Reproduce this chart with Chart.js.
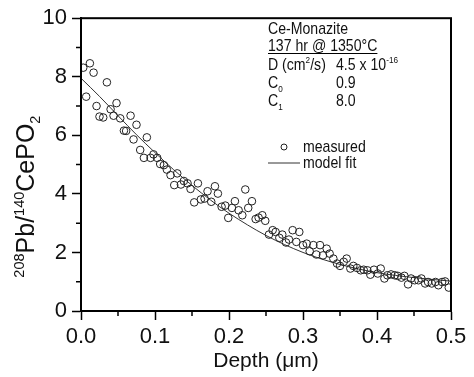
<!DOCTYPE html>
<html>
<head>
<meta charset="utf-8">
<title>Ce-Monazite Pb diffusion profile</title>
<script src="https://cdn.jsdelivr.net/npm/chart.js@4.4.1/dist/chart.umd.min.js"></script>
<style>
    html, body { margin: 0; padding: 0; background: #fff; }
    canvas { display: block; }
</style>
</head>
<body>
<canvas id="profile" width="474" height="377"></canvas>
<script>
// Measured 208Pb/140CePO2 ratio vs depth (um)
const depthMeasured = [
    0.003, 0.007, 0.012, 0.017, 0.021, 0.025, 0.030, 0.035, 0.040, 0.044,
    0.048, 0.053, 0.058, 0.061, 0.067, 0.071, 0.075, 0.080, 0.085, 0.089,
    0.094, 0.098, 0.103, 0.107, 0.112, 0.116, 0.121, 0.126, 0.130, 0.135,
    0.139, 0.144, 0.148, 0.153, 0.158, 0.162, 0.167, 0.171, 0.176, 0.181,
    0.185, 0.190, 0.195, 0.199, 0.204, 0.208, 0.213, 0.218, 0.222, 0.226,
    0.231, 0.236, 0.240, 0.245, 0.249, 0.254, 0.259, 0.263, 0.268, 0.272,
    0.277, 0.281, 0.286, 0.291, 0.295, 0.300, 0.305, 0.309, 0.314, 0.318,
    0.323, 0.327, 0.332, 0.336, 0.341, 0.346, 0.350, 0.355, 0.359, 0.364,
    0.368, 0.373, 0.378, 0.382, 0.387, 0.391, 0.396, 0.401, 0.405, 0.410,
    0.414, 0.419, 0.424, 0.428, 0.433, 0.437, 0.442, 0.446, 0.451, 0.456,
    0.460, 0.465, 0.469, 0.474, 0.479, 0.483, 0.488, 0.492, 0.497
];
const ratioMeasured = [
    8.31, 7.32, 8.46, 8.14, 7.00, 6.64, 6.61, 7.81, 6.89, 6.67,
    7.10, 6.58, 6.16, 6.15, 6.67, 5.86, 6.36, 5.50, 5.23, 5.93,
    5.23, 5.35, 5.23, 5.02, 4.98, 4.83, 4.64, 4.30, 4.70, 4.32,
    4.44, 4.36, 4.17, 3.71, 4.36, 3.81, 3.84, 4.09, 3.73, 4.26,
    4.01, 3.56, 3.60, 3.18, 3.52, 3.75, 3.44, 3.27, 4.15, 3.52,
    3.75, 3.14, 3.19, 3.27, 3.08, 2.61, 2.76, 2.70, 2.50, 2.61,
    2.34, 2.44, 2.76, 2.36, 2.70, 2.25, 2.30, 2.04, 2.25, 1.93,
    2.25, 1.90, 2.13, 1.96, 1.79, 1.62, 1.54, 1.68, 1.79, 1.45,
    1.54, 1.47, 1.39, 1.41, 1.39, 1.24, 1.41, 1.28, 1.45, 1.11,
    1.22, 1.25, 1.22, 1.20, 1.14, 1.20, 0.91, 1.11, 1.05, 1.05,
    1.11, 0.94, 0.99, 0.94, 0.99, 0.88, 0.99, 1.01, 0.80
];

// Model fit curve, sampled off the figure
const depthFit = [0.0, 0.025, 0.05, 0.075, 0.1, 0.125, 0.15, 0.175, 0.2, 0.25, 0.3, 0.35, 0.4, 0.45, 0.5];
const ratioFit = [7.95, 7.33, 6.67, 6.02, 5.41, 4.83, 4.29, 3.79, 3.34, 2.58, 2.00, 1.59, 1.31, 1.14, 1.02];

// Axis ticks
const depthTicks = [0.0, 0.1, 0.2, 0.3, 0.4, 0.5];
const ratioTicks = [0, 2, 4, 6, 8, 10];

const FONT = '"Liberation Sans", Arial, sans-serif';
const INK = '#111';

// Draw text runs (normal / sup / sub) along a baseline, returns end x
function drawRuns(ctx, runs, x, y, size) {
    runs.forEach(r => {
        let fs = size, dy = 0;
        if (r.sup) { fs = size * 0.58; dy = -size * 0.42; }
        if (r.sub) { fs = size * 0.58; dy = size * 0.22; }
        ctx.font = `${fs}px ${FONT}`;
        ctx.fillText(r.t, x, y + dy);
        x += ctx.measureText(r.t).width;
    });
    return x;
}

function runsWidth(ctx, runs, size) {
    let w = 0;
    runs.forEach(r => {
        const fs = (r.sup || r.sub) ? size * 0.58 : size;
        ctx.font = `${fs}px ${FONT}`;
        w += ctx.measureText(r.t).width;
    });
    return w;
}

// Frame, minor ticks, y title, annotation and legend
const extrasPlugin = {
    id: 'extras',
    afterDraw(chart) {
        const ctx = chart.ctx;
        const area = chart.chartArea;
        const xs = chart.scales.x;
        const ys = chart.scales.y;

        ctx.save();
        ctx.strokeStyle = '#000';

        // box frame
        ctx.lineWidth = 2;
        ctx.strokeRect(area.left, area.top, area.right - area.left, area.bottom - area.top);

        // minor ticks halfway between majors
        ctx.lineWidth = 1.5;
        ctx.beginPath();
        for (let i = 0; i < depthTicks.length - 1; i++) {
            const px = xs.getPixelForValue((depthTicks[i] + depthTicks[i + 1]) / 2);
            ctx.moveTo(px, area.bottom);
            ctx.lineTo(px, area.bottom + 5);
        }
        for (let i = 0; i < ratioTicks.length - 1; i++) {
            const py = ys.getPixelForValue((ratioTicks[i] + ratioTicks[i + 1]) / 2);
            ctx.moveTo(area.left, py);
            ctx.lineTo(area.left - 5, py);
        }
        ctx.stroke();

        ctx.fillStyle = INK;
        ctx.textBaseline = 'alphabetic';
        ctx.textAlign = 'left';

        // y axis title: 208Pb/140CePO2
        const yTitle = [
            { t: '208', sup: true }, { t: 'Pb/' },
            { t: '140', sup: true }, { t: 'CePO' },
            { t: '2', sub: true }
        ];
        const tSize = 25;
        const tw = runsWidth(ctx, yTitle, tSize);
        const midY = (area.top + area.bottom) / 2 + 32;
        ctx.save();
        ctx.translate(34, midY + tw / 2);
        ctx.rotate(-Math.PI / 2);
        drawRuns(ctx, yTitle, 0, 0, tSize);
        ctx.restore();

        // annotation block, narrow face
        const aSize = 17;
        const sx = 0.83;
        const col1 = 268, col2 = 336;
        ctx.save();
        ctx.scale(sx, 1);
        const X = v => v / sx;
        drawRuns(ctx, [{ t: 'Ce-Monazite' }], X(col1), 34, aSize);
        const endX = drawRuns(ctx, [{ t: '137 hr @ 1350°C' }], X(col1), 51, aSize);
        ctx.lineWidth = 1.2;
        ctx.beginPath();
        ctx.moveTo(X(col1), 53.5);
        ctx.lineTo(endX, 53.5);
        ctx.stroke();
        drawRuns(ctx, [{ t: 'D (cm' }, { t: '2', sup: true }, { t: '/s)' }], X(col1), 70, aSize);
        drawRuns(ctx, [{ t: '4.5 x 10' }, { t: '-16', sup: true }], X(col2), 70, aSize);
        drawRuns(ctx, [{ t: 'C' }, { t: '0', sub: true }], X(col1), 88, aSize);
        drawRuns(ctx, [{ t: '0.9' }], X(col2), 88, aSize);
        drawRuns(ctx, [{ t: 'C' }, { t: '1', sub: true }], X(col1), 106, aSize);
        drawRuns(ctx, [{ t: '8.0' }], X(col2), 106, aSize);

        // legend
        drawRuns(ctx, [{ t: 'measured' }], X(303), 152, aSize);
        drawRuns(ctx, [{ t: 'model fit' }], X(303), 168, aSize);
        ctx.restore();

        const ds = chart.data.datasets;
        ctx.strokeStyle = ds[0].borderColor;
        ctx.lineWidth = 1;
        ctx.beginPath();
        ctx.arc(284, 147, 3, 0, Math.PI * 2);
        ctx.stroke();
        ctx.strokeStyle = ds[1].borderColor;
        ctx.lineWidth = ds[1].borderWidth;
        ctx.beginPath();
        ctx.moveTo(268, 163);
        ctx.lineTo(300, 163);
        ctx.stroke();

        ctx.restore();
    }
};

const measuredPoints = depthMeasured.map((d, i) => ({ x: d, y: ratioMeasured[i] }));
const fitPoints = depthFit.map((d, i) => ({ x: d, y: ratioFit[i] }));

new Chart(document.getElementById('profile'), {
    type: 'scatter',
    data: {
        datasets: [{
            label: 'measured',
            data: measuredPoints,
            pointStyle: 'circle',
            pointRadius: 3.8,
            pointBorderWidth: 1,
            borderColor: '#222',
            backgroundColor: 'rgba(255, 255, 255, 0)',
            showLine: false,
            order: 1
        }, {
            label: 'model fit',
            data: fitPoints,
            showLine: true,
            pointRadius: 0,
            borderColor: '#333',
            borderWidth: 1,
            cubicInterpolationMode: 'monotone',
            fill: false,
            order: 2
        }]
    },
    options: {
        responsive: false,
        animation: false,
        layout: {
            padding: { left: 0, right: 23, top: 18, bottom: 0 }
        },
        plugins: {
            legend: { display: false },
            tooltip: { enabled: false }
        },
        scales: {
            x: {
                type: 'linear',
                min: 0,
                max: 0.5,
                afterFit: scale => { scale.height = 66; },
                afterBuildTicks: scale => {
                    scale.ticks = depthTicks.map(v => ({ value: v }));
                },
                ticks: {
                    color: INK,
                    padding: 4,
                    font: { family: FONT, size: 22 },
                    callback: v => Number(v).toFixed(1)
                },
                grid: {
                    display: true,
                    drawOnChartArea: false,
                    drawTicks: true,
                    tickLength: 9,
                    tickWidth: 1.5,
                    tickColor: '#000'
                },
                border: { display: true, color: '#000', width: 2 },
                title: {
                    display: true,
                    text: 'Depth (μm)',
                    color: INK,
                    font: { family: FONT, size: 21 },
                    padding: { top: 0, bottom: 3 }
                }
            },
            y: {
                type: 'linear',
                min: 0,
                max: 10,
                afterFit: scale => { scale.width = 81; },
                afterBuildTicks: scale => {
                    scale.ticks = ratioTicks.map(v => ({ value: v }));
                },
                ticks: {
                    color: INK,
                    padding: 5,
                    font: { family: FONT, size: 22 }
                },
                grid: {
                    display: true,
                    drawOnChartArea: false,
                    drawTicks: true,
                    tickLength: 9,
                    tickWidth: 1.5,
                    tickColor: '#000'
                },
                border: { display: true, color: '#000', width: 2 }
            }
        }
    },
    plugins: [extrasPlugin]
});
</script>
</body>
</html>
